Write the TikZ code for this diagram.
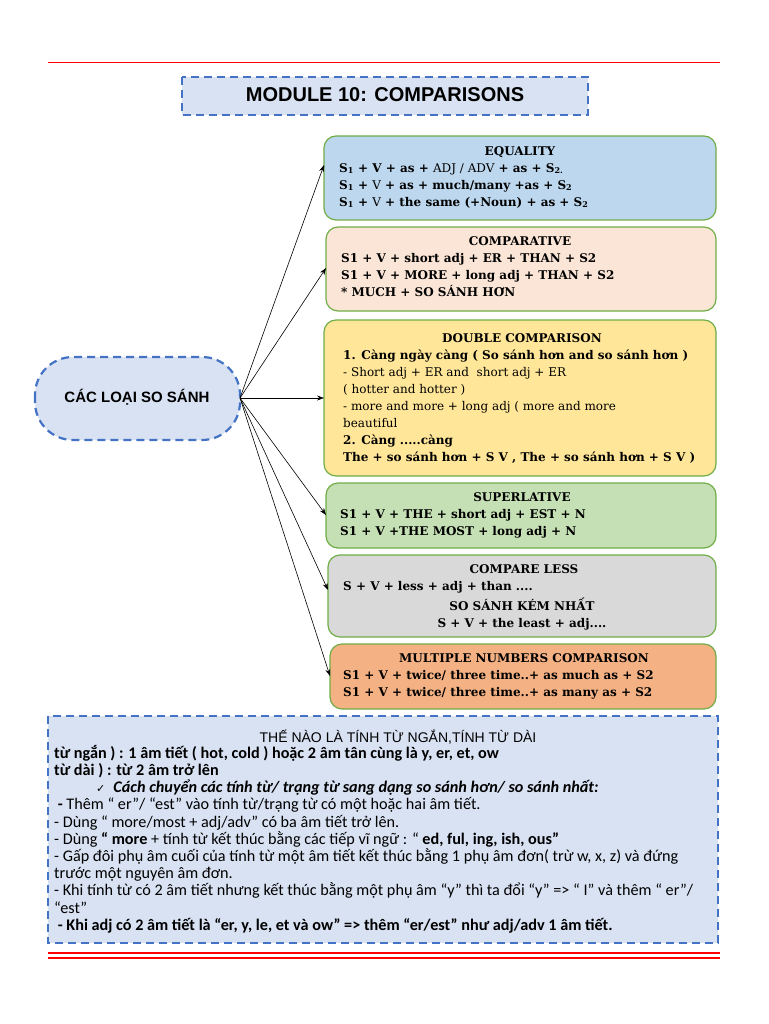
\documentclass[tikz,border=0pt]{standalone}
\usepackage{fontspec}
\setmainfont{DejaVu Serif}
\setsansfont{Liberation Sans}
\newfontfamily\djv{DejaVu Sans}
\newfontfamily\carl{Carlito}
\usetikzlibrary{arrows.meta}
\definecolor{gb}{HTML}{70AD47}
\definecolor{db}{HTML}{4472C4}
\definecolor{cEq}{HTML}{BDD7EE}
\definecolor{cCp}{HTML}{FBE5D6}
\definecolor{cDc}{HTML}{FFE699}
\definecolor{cSp}{HTML}{C5E0B4}
\definecolor{cCl}{HTML}{D9D9D9}
\definecolor{cMn}{HTML}{F4B183}
\definecolor{cBg}{HTML}{D9E2F3}
\tikzset{
 cbox/.style={draw=gb,line width=1.2pt,rounded corners=12pt},
 dbox/.style={draw=db,line width=2.2pt,dash pattern=on 8pt off 5pt},
 arr/.style={-{Stealth[length=7pt,width=5pt]},line width=0.6pt},
 txt/.style={font=\fontsize{12}{17}\selectfont\bfseries,align=left,anchor=north west,inner sep=0pt},
}
\begin{document}
\begin{tikzpicture}[x=1pt,y=-1pt]
\useasboundingbox (0,0) rectangle (768,1024);
\draw[red,line width=1pt] (48,63) -- (720,63);
\draw[red,line width=1.3pt] (48,953) -- (720,953);
\draw[red,line width=1.3pt] (48,958) -- (720,958);
% title
\filldraw[dbox,fill=cBg,line width=1.6pt] (182,77) rectangle (588,115);
\node (title) at (385,95) {\sffamily\bfseries\fontsize{20}{22}\selectfont MODULE 10: COMPARISONS};
% left
\filldraw[dbox,fill=cBg,rounded corners=38pt] (35,357) rectangle (240,440);
\node (cac) at (137,397) {\sffamily\bfseries\fontsize{15}{17}\selectfont CÁC LOẠI SO SÁNH};
\coordinate (src) at (240,398);
% boxes
\filldraw[cbox,fill=cEq] (324,136) rectangle (716,220); \coordinate (eq) at (324,165);
\filldraw[cbox,fill=cCp] (326,227) rectangle (716,311); \coordinate (cp) at (326,268);
\filldraw[cbox,fill=cDc] (324,320) rectangle (716,476); \coordinate (dc) at (324,398);
\filldraw[cbox,fill=cSp] (326,483) rectangle (716,548); \coordinate (sp) at (326,515);
\filldraw[cbox,fill=cCl] (328,555) rectangle (716,637); \coordinate (cl) at (328,590);
\filldraw[cbox,fill=cMn] (330,644) rectangle (716,709); \coordinate (mn) at (330,676);
\foreach \t in {eq,cp,dc,sp,cl,mn} \draw[arr] (src) -- (\t);
\node[txt,anchor=north] (t1) at (520,146) {EQUALITY};
\node[txt] (b1) at (339,163) {S\textsubscript{1} + V + as + \mdseries ADJ / ADV\bfseries{} + as + S\textsubscript{2.}\\S\textsubscript{1} + \mdseries V\bfseries{} + as + much/many +as + S\textsubscript{2}\\S\textsubscript{1} + \mdseries V\bfseries{} + the same (+Noun) + as + S\textsubscript{2}};
\node[txt,anchor=north] (t2) at (520,236) {COMPARATIVE};
\node[txt] (b2) at (341,253) {S1 + V + short adj + ER + THAN + S2\\S1 + V + MORE + long adj + THAN + S2\\* MUCH + SO SÁNH HƠN};
\node[txt,anchor=north] (t3) at (522,333) {DOUBLE COMPARISON};
\node[txt] (b3) at (343,350) {1. Càng ngày càng ( So sánh hơn and so sánh hơn )\\\mdseries - Short adj + ER and\ \ short adj + ER\\\mdseries ( hotter and hotter )\\\mdseries - more and more + long adj ( more and more\\\mdseries beautiful\\2. Càng .....càng\\The + so sánh hơn + S V , The + so sánh hơn + S V )};
\node[txt,anchor=north] (t4) at (522,492) {SUPERLATIVE};
\node[txt] (b4) at (340,509) {S1 + V + THE + short adj + EST + N\\S1 + V +THE MOST + long adj + N};
\node[txt,anchor=north] (t5) at (524,564) {COMPARE LESS};
\node[txt] (b5) at (343,581) {S + V + less + adj + than ....};
\node[txt,anchor=north,align=center] (b5b) at (522,598) {SO SÁNH KÉM NHẤT\\S + V + the least + adj....};
\node[txt,anchor=north] (t6) at (524,653) {MULTIPLE NUMBERS COMPARISON};
\node[txt] (b6) at (343,670) {S1 + V + twice/ three time..+ as much as + S2\\S1 + V + twice/ three time..+ as many as + S2};
% bottom
\filldraw[dbox,fill=cBg] (48,716) rectangle (718,943);
\node (bt) at (398,737) {\sffamily\fontsize{14}{15}\selectfont THẾ NÀO LÀ TÍNH TỪ NGẮN,TÍNH TỪ DÀI};
\node[txt,font=\carl\fontsize{16.2}{17.2}\selectfont] (bb) at (54,745) {\bfseries từ ngắn ) : 1 âm tiết ( hot, cold ) hoặc 2 âm tân cùng là y, er, et, ow\\\bfseries từ dài ) : từ 2 âm trở lên\\\hspace*{42pt}{\djv\fontsize{11}{17}\selectfont ✓}\hspace{8pt}\bfseries\itshape Cách chuyển các tính từ/ trạng từ sang dạng so sánh hơn/ so sánh nhất:\\\textbf{ -} Thêm “ er”/ “est” vào tính từ/trạng từ có một hoặc hai âm tiết.\\ - Dùng “ more/most + adj/adv” có ba âm tiết trở lên.\\ - Dùng \textbf{“ more} + tính từ kết thúc bằng các tiếp vĩ ngữ : “ \textbf{ed, ful, ing, ish, ous”}\\ - Gấp đôi phụ âm cuối của tính từ một âm tiết kết thúc bằng 1 phụ âm đơn( trừ w, x, z) và đứng\\ trước một nguyên âm đơn.\\ - Khi tính từ có 2 âm tiết nhưng kết thúc bằng một phụ âm “y” thì ta đổi “y” => “ I” và thêm “ er”/\\ “est”\\\bfseries\ - Khi adj có 2 âm tiết là “er, y, le, et và ow” => thêm “er/est” như adj/adv 1 âm tiết.};
\end{tikzpicture}
\end{document}
